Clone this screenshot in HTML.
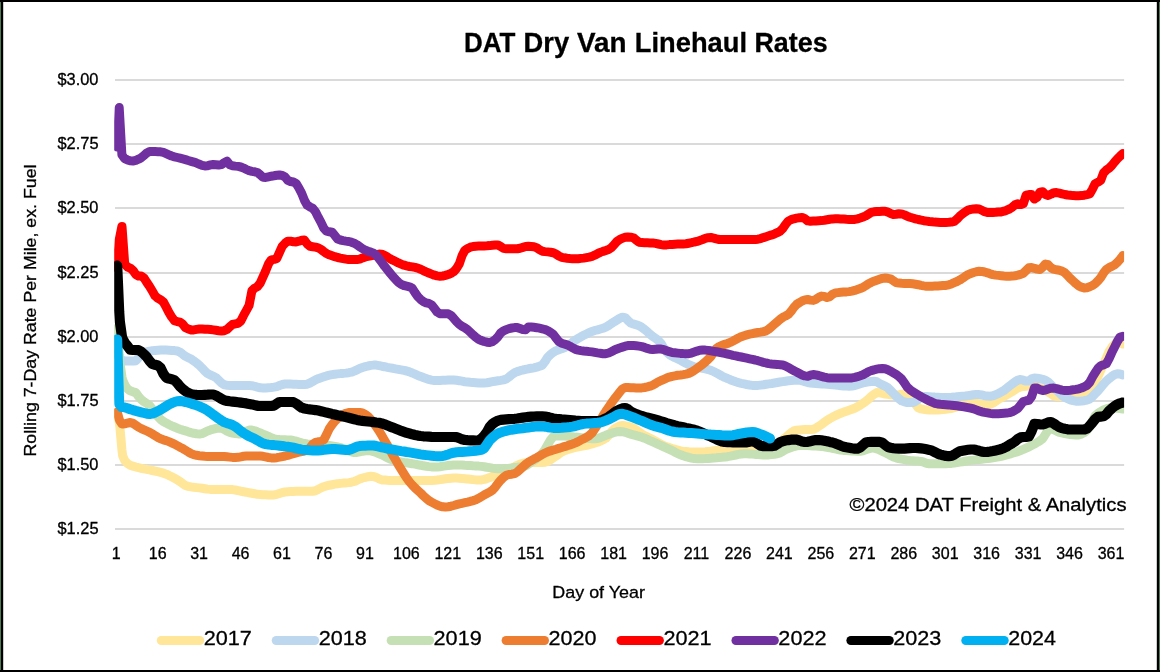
<!DOCTYPE html>
<html><head><meta charset="utf-8"><title>DAT Dry Van Linehaul Rates</title>
<style>html,body{margin:0;padding:0;background:#fff}body{width:1160px;height:672px;overflow:hidden}svg{display:block;will-change:transform}text{font-family:"Liberation Sans",sans-serif;fill:#000;stroke:#000;stroke-width:0.3px}</style></head><body>
<svg width="1160" height="672" viewBox="0 0 1160 672">
<rect x="0" y="0" width="1160" height="672" fill="#fff"/>
<rect x="0" y="0" width="1.2" height="672" fill="#4e7a51"/>
<rect x="1158.8" y="0" width="1.2" height="672" fill="#4e7a51"/>
<rect x="1" y="0" width="2.2" height="672" fill="#000"/>
<rect x="1156.8" y="0" width="2.2" height="672" fill="#000"/>
<rect x="0" y="0" width="1160" height="2" fill="#000"/>
<rect x="0" y="670" width="1160" height="2" fill="#000"/>
<text x="464.01" y="51.50" font-size="27.4" font-weight="bold" textLength="51.44" lengthAdjust="spacingAndGlyphs">DAT</text>
<text x="523.52" y="51.50" font-size="27.4" font-weight="bold" textLength="45.61" lengthAdjust="spacingAndGlyphs">Dry</text>
<text x="576.96" y="51.50" font-size="27.4" font-weight="bold" textLength="49.53" lengthAdjust="spacingAndGlyphs">Van</text>
<text x="634.83" y="51.50" font-size="27.4" font-weight="bold" textLength="112.23" lengthAdjust="spacingAndGlyphs">Linehaul</text>
<text x="754.46" y="51.50" font-size="27.4" font-weight="bold" textLength="73.12" lengthAdjust="spacingAndGlyphs">Rates</text>
<rect x="115.0" y="79" width="1009.0999999999999" height="2" fill="#dadada"/>
<rect x="115.0" y="143" width="1009.0999999999999" height="2" fill="#dadada"/>
<rect x="115.0" y="207" width="1009.0999999999999" height="2" fill="#dadada"/>
<rect x="115.0" y="272" width="1009.0999999999999" height="2" fill="#dadada"/>
<rect x="115.0" y="336" width="1009.0999999999999" height="2" fill="#dadada"/>
<rect x="115.0" y="400" width="1009.0999999999999" height="2" fill="#dadada"/>
<rect x="115.0" y="464" width="1009.0999999999999" height="2" fill="#dadada"/>
<rect x="115.0" y="528" width="1009.0999999999999" height="2" fill="#dadada"/>
<text x="57.49" y="84.90" font-size="16.1" textLength="41.01" lengthAdjust="spacingAndGlyphs">$3.00</text>
<text x="57.49" y="148.90" font-size="16.1" textLength="41.09" lengthAdjust="spacingAndGlyphs">$2.75</text>
<text x="57.49" y="212.90" font-size="16.1" textLength="41.01" lengthAdjust="spacingAndGlyphs">$2.50</text>
<text x="57.49" y="277.90" font-size="16.1" textLength="41.09" lengthAdjust="spacingAndGlyphs">$2.25</text>
<text x="57.49" y="341.90" font-size="16.1" textLength="41.01" lengthAdjust="spacingAndGlyphs">$2.00</text>
<text x="57.49" y="405.90" font-size="16.1" textLength="41.09" lengthAdjust="spacingAndGlyphs">$1.75</text>
<text x="57.49" y="469.90" font-size="16.1" textLength="41.01" lengthAdjust="spacingAndGlyphs">$1.50</text>
<text x="57.49" y="533.90" font-size="16.1" textLength="41.09" lengthAdjust="spacingAndGlyphs">$1.25</text>
<text x="116.20" y="558.8" text-anchor="middle" font-size="16.0">1</text>
<text x="157.65" y="558.8" text-anchor="middle" font-size="16.0">16</text>
<text x="199.10" y="558.8" text-anchor="middle" font-size="16.0">31</text>
<text x="240.55" y="558.8" text-anchor="middle" font-size="16.0">46</text>
<text x="282.00" y="558.8" text-anchor="middle" font-size="16.0">61</text>
<text x="323.45" y="558.8" text-anchor="middle" font-size="16.0">76</text>
<text x="364.90" y="558.8" text-anchor="middle" font-size="16.0">91</text>
<text x="406.35" y="558.8" text-anchor="middle" font-size="16.0">106</text>
<text x="447.80" y="558.8" text-anchor="middle" font-size="16.0">121</text>
<text x="489.25" y="558.8" text-anchor="middle" font-size="16.0">136</text>
<text x="530.70" y="558.8" text-anchor="middle" font-size="16.0">151</text>
<text x="572.14" y="558.8" text-anchor="middle" font-size="16.0">166</text>
<text x="613.59" y="558.8" text-anchor="middle" font-size="16.0">181</text>
<text x="655.04" y="558.8" text-anchor="middle" font-size="16.0">196</text>
<text x="696.49" y="558.8" text-anchor="middle" font-size="16.0">211</text>
<text x="737.94" y="558.8" text-anchor="middle" font-size="16.0">226</text>
<text x="779.39" y="558.8" text-anchor="middle" font-size="16.0">241</text>
<text x="820.84" y="558.8" text-anchor="middle" font-size="16.0">256</text>
<text x="862.29" y="558.8" text-anchor="middle" font-size="16.0">271</text>
<text x="903.74" y="558.8" text-anchor="middle" font-size="16.0">286</text>
<text x="945.19" y="558.8" text-anchor="middle" font-size="16.0">301</text>
<text x="986.64" y="558.8" text-anchor="middle" font-size="16.0">316</text>
<text x="1028.09" y="558.8" text-anchor="middle" font-size="16.0">331</text>
<text x="1069.54" y="558.8" text-anchor="middle" font-size="16.0">346</text>
<text x="1110.99" y="558.8" text-anchor="middle" font-size="16.0">361</text>
<text x="552.32" y="597.50" font-size="17.2" textLength="92.61" lengthAdjust="spacingAndGlyphs">Day of Year</text>
<text x="-456.52" y="35.90" font-size="17.4" textLength="292.02" lengthAdjust="spacingAndGlyphs" transform="rotate(-90)">Rolling 7-Day Rate Per Mile, ex. Fuel</text>
<clipPath id="pc"><rect x="114.2" y="60" width="1009.8999999999999" height="480"/></clipPath>
<g clip-path="url(#pc)" fill="none" stroke-width="9.0" stroke-linejoin="round" stroke-linecap="round">
<path d="M117.2,413.0 L119.2,421.8 L119.9,427.0 L121.5,445.0 L121.9,449.7 L122.7,456.0 L124.7,460.5 L127.5,463.5 L130.2,465.2 L133.0,466.2 L135.8,467.0 L138.5,467.7 L141.3,468.3 L144.1,468.9 L146.8,469.4 L149.6,469.9 L152.3,470.5 L155.1,471.1 L157.9,471.7 L160.6,472.4 L163.4,473.2 L166.2,474.2 L168.9,475.4 L171.7,476.8 L174.5,478.3 L177.2,479.8 L180.0,481.6 L182.8,483.7 L185.5,485.5 L188.3,486.4 L191.1,486.9 L193.8,487.3 L196.6,487.6 L199.4,487.9 L202.1,488.3 L204.9,488.7 L207.6,489.1 L210.4,489.4 L213.2,489.5 L215.9,489.5 L218.7,489.5 L221.5,489.5 L224.2,489.5 L227.0,489.5 L229.8,489.5 L232.5,489.6 L235.3,490.0 L238.1,490.6 L240.8,491.2 L243.6,491.7 L246.4,492.2 L249.1,492.8 L251.9,493.3 L254.7,493.8 L257.4,494.3 L260.2,494.5 L262.9,494.7 L265.7,494.8 L268.5,494.9 L271.2,495.0 L274.0,494.9 L276.8,494.3 L279.5,493.4 L282.3,492.5 L285.1,492.0 L287.8,491.8 L290.6,491.6 L293.4,491.4 L296.1,491.3 L298.9,491.3 L301.7,491.2 L304.4,491.2 L307.2,491.2 L310.0,491.2 L312.7,491.2 L315.5,490.7 L318.2,489.4 L321.0,487.9 L323.8,486.7 L326.5,485.9 L329.3,485.2 L332.1,484.7 L334.8,484.2 L337.6,483.7 L340.4,483.4 L343.1,483.1 L345.9,482.9 L348.7,482.6 L351.4,482.2 L354.2,481.5 L357.0,480.3 L359.7,479.0 L362.5,478.0 L365.3,477.3 L368.0,476.7 L370.8,476.3 L373.5,476.4 L376.3,477.4 L379.1,478.9 L381.8,479.9 L384.6,480.1 L387.4,480.3 L390.1,480.4 L392.9,480.5 L395.7,480.5 L398.4,480.5 L401.2,480.5 L404.0,480.5 L406.7,480.5 L409.5,480.5 L412.3,480.5 L415.0,480.5 L417.8,480.5 L420.6,480.5 L423.3,480.5 L426.1,480.5 L428.8,480.5 L431.6,480.5 L434.4,480.3 L437.1,480.0 L439.9,479.6 L442.7,479.2 L445.4,478.8 L448.2,478.5 L451.0,478.2 L453.7,478.0 L456.5,478.0 L459.3,478.2 L462.0,478.4 L464.8,478.7 L467.6,479.0 L470.3,479.3 L473.1,479.6 L475.9,479.9 L478.6,480.0 L481.4,479.9 L484.1,479.4 L486.9,478.6 L489.7,477.6 L492.4,476.5 L495.2,475.3 L498.0,474.0 L500.7,472.7 L503.5,471.5 L506.3,470.3 L509.0,469.2 L511.8,468.0 L514.6,466.8 L517.3,465.3 L520.1,464.1 L522.9,463.3 L525.6,462.9 L528.4,462.6 L531.2,462.5 L533.9,462.4 L536.7,462.4 L539.4,462.4 L542.2,462.4 L545.0,462.3 L547.7,461.5 L550.5,459.7 L553.3,457.8 L556.0,456.0 L558.8,454.0 L561.6,452.1 L564.3,450.8 L567.1,449.7 L569.9,448.9 L572.6,448.1 L575.4,447.4 L578.2,446.8 L580.9,446.3 L583.7,445.8 L586.5,445.3 L589.2,444.7 L592.0,444.0 L594.7,443.1 L597.5,442.2 L600.3,441.1 L603.0,439.8 L605.8,438.2 L608.6,435.4 L611.3,432.0 L614.1,429.1 L616.9,427.4 L619.6,426.0 L622.4,425.5 L625.2,425.8 L627.9,426.3 L630.7,427.1 L633.5,428.1 L636.2,429.9 L639.0,432.0 L641.8,434.0 L644.5,435.6 L647.3,436.9 L650.0,438.2 L652.8,439.6 L655.6,441.1 L658.3,442.8 L661.1,444.3 L663.9,445.6 L666.6,446.6 L669.4,447.6 L672.2,448.5 L674.9,449.3 L677.7,450.1 L680.5,450.9 L683.2,451.4 L686.0,451.6 L688.8,451.8 L691.5,451.9 L694.3,452.0 L697.1,452.0 L699.8,452.0 L702.6,451.9 L705.3,451.7 L708.1,451.4 L710.9,451.2 L713.6,450.8 L716.4,450.5 L719.2,450.2 L721.9,449.8 L724.7,449.5 L727.5,449.2 L730.2,448.8 L733.0,448.5 L735.8,448.1 L738.5,447.7 L741.3,447.3 L744.1,447.1 L746.8,446.9 L749.6,446.7 L752.4,446.6 L755.1,446.5 L757.9,446.4 L760.6,446.3 L763.4,446.1 L766.2,445.9 L768.9,445.6 L771.7,445.2 L774.5,444.6 L777.2,443.6 L780.0,441.8 L782.8,439.8 L785.5,437.5 L788.3,435.0 L791.1,432.8 L793.8,430.9 L796.6,430.2 L799.4,429.9 L802.1,429.7 L804.9,429.6 L807.7,429.6 L810.4,429.6 L813.2,429.3 L815.9,428.1 L818.7,426.3 L821.5,424.5 L824.2,422.4 L827.0,420.3 L829.8,418.6 L832.5,417.1 L835.3,415.7 L838.1,414.4 L840.8,413.2 L843.6,412.1 L846.4,411.2 L849.1,410.3 L851.9,409.3 L854.7,408.2 L857.4,406.8 L860.2,405.1 L863.0,403.3 L865.7,401.3 L868.5,399.2 L871.2,396.5 L874.0,394.3 L876.8,392.6 L879.5,392.7 L882.3,393.4 L885.1,394.0 L887.8,394.4 L890.6,394.7 L893.4,395.0 L896.1,395.0 L898.9,394.7 L901.7,394.3 L904.4,394.0 L907.2,394.9 L910.0,397.8 L912.7,400.8 L915.5,404.4 L918.3,407.8 L921.0,408.9 L923.8,409.4 L926.5,409.7 L929.3,409.9 L932.1,410.0 L934.8,410.0 L937.6,409.9 L940.4,409.7 L943.1,409.5 L945.9,409.2 L948.7,408.9 L951.4,408.5 L954.2,407.7 L957.0,406.7 L959.7,405.5 L962.5,404.3 L965.3,403.3 L968.0,402.7 L970.8,402.5 L973.6,402.8 L976.3,403.2 L979.1,403.8 L981.8,404.4 L984.6,404.8 L987.4,405.0 L990.1,404.5 L992.9,403.1 L995.7,401.3 L998.4,399.4 L1001.2,397.9 L1004.0,396.3 L1006.7,394.8 L1009.5,393.2 L1012.3,391.6 L1015.0,389.8 L1017.8,387.9 L1020.6,386.9 L1023.3,386.5 L1026.1,386.2 L1028.9,386.0 L1031.6,386.1 L1034.4,386.5 L1037.1,387.2 L1039.9,388.0 L1042.7,389.0 L1045.4,390.4 L1048.2,392.0 L1051.0,393.6 L1053.7,395.7 L1056.5,396.5 L1059.3,396.5 L1062.0,396.4 L1064.8,396.2 L1067.6,396.0 L1070.3,395.8 L1073.1,395.3 L1075.9,394.7 L1078.6,393.9 L1081.4,393.0 L1084.2,391.8 L1086.9,390.2 L1089.7,388.3 L1092.4,385.4 L1095.2,381.3 L1098.0,376.3 L1100.7,370.4 L1103.5,364.3 L1106.3,358.1 L1109.0,351.7 L1111.8,347.3 L1114.6,344.2 L1117.3,343.0 L1120.1,342.5 L1122.9,344.0 L1122.9,344.0" stroke="#FFE699" stroke-width="9.0"/>
<path d="M117.2,353.0 L119.2,358.0 L119.2,358.0 L121.9,360.1 L124.7,361.0 L125.0,361.0 L127.5,361.0 L130.2,361.0 L133.0,361.0 L135.0,361.0 L135.8,360.8 L138.5,357.8 L141.3,354.8 L144.1,353.2 L146.8,351.9 L149.6,351.1 L152.3,350.7 L155.1,350.4 L157.9,350.2 L160.6,350.0 L163.4,350.0 L166.2,350.1 L168.9,350.2 L171.7,350.4 L174.5,350.6 L177.2,351.0 L180.0,352.1 L182.8,354.3 L185.5,356.3 L188.3,357.7 L191.1,359.1 L193.8,360.9 L196.6,363.0 L199.4,365.4 L202.1,368.1 L204.9,371.2 L207.6,373.6 L210.4,375.0 L213.2,376.1 L215.9,377.6 L218.7,380.3 L221.5,383.0 L224.2,384.8 L227.0,385.2 L229.8,385.4 L232.5,385.5 L235.3,385.5 L238.1,385.5 L240.8,385.5 L243.6,385.5 L246.4,385.5 L249.1,385.5 L251.9,385.7 L254.7,386.3 L257.4,387.1 L260.2,387.8 L262.9,388.0 L265.7,387.9 L268.5,387.7 L271.2,387.5 L274.0,387.1 L276.8,386.6 L279.5,385.5 L282.3,384.5 L285.1,384.0 L287.8,384.0 L290.6,384.1 L293.4,384.2 L296.1,384.3 L298.9,384.4 L301.7,384.5 L304.4,384.5 L307.2,384.2 L310.0,383.0 L312.7,381.5 L315.5,379.9 L318.2,378.7 L321.0,377.7 L323.8,376.8 L326.5,375.9 L329.3,375.2 L332.1,374.6 L334.8,374.2 L337.6,373.9 L340.4,373.6 L343.1,373.4 L345.9,373.1 L348.7,372.7 L351.4,372.2 L354.2,371.1 L357.0,369.8 L359.7,368.5 L362.5,367.5 L365.3,366.7 L368.0,366.0 L370.8,365.4 L373.5,365.1 L376.3,365.1 L379.1,365.6 L381.8,366.2 L384.6,366.7 L387.4,367.3 L390.1,367.8 L392.9,368.3 L395.7,368.9 L398.4,369.4 L401.2,369.9 L404.0,370.4 L406.7,371.0 L409.5,371.9 L412.3,373.0 L415.0,374.2 L417.8,375.4 L420.6,376.4 L423.3,377.5 L426.1,378.5 L428.8,379.4 L431.6,380.1 L434.4,380.5 L437.1,380.5 L439.9,380.4 L442.7,380.3 L445.4,380.2 L448.2,380.1 L451.0,380.0 L453.7,380.0 L456.5,380.3 L459.3,380.7 L462.0,381.2 L464.8,381.7 L467.6,382.0 L470.3,382.3 L473.1,382.5 L475.9,382.7 L478.6,382.9 L481.4,383.0 L484.1,382.9 L486.9,382.7 L489.7,382.2 L492.4,381.7 L495.2,381.2 L498.0,380.8 L500.7,380.4 L503.5,379.9 L506.3,379.0 L509.0,377.0 L511.8,374.6 L514.6,372.7 L517.3,371.6 L520.1,370.7 L522.9,370.0 L525.6,369.4 L528.4,368.8 L531.2,368.3 L533.9,367.8 L536.7,367.1 L539.4,366.3 L542.2,365.2 L545.0,361.6 L547.7,357.2 L550.5,354.5 L553.3,352.3 L556.0,350.7 L558.8,349.7 L561.6,348.8 L564.3,347.8 L567.1,346.3 L569.9,344.4 L572.6,342.2 L575.4,340.1 L578.2,338.4 L580.9,336.8 L583.7,335.3 L586.5,333.9 L589.2,332.6 L592.0,331.4 L594.7,330.5 L597.5,329.8 L600.3,329.0 L603.0,328.2 L605.8,327.1 L608.6,325.5 L611.3,323.6 L614.1,321.8 L616.9,320.1 L619.6,318.4 L622.4,317.2 L625.2,317.6 L627.9,320.6 L630.7,322.9 L633.5,323.9 L636.2,324.8 L639.0,325.8 L641.8,327.3 L644.5,329.3 L647.3,331.7 L650.0,334.2 L652.8,336.5 L655.6,338.4 L658.3,340.4 L661.1,343.5 L663.9,348.3 L666.6,351.9 L669.4,354.6 L672.2,356.3 L674.9,357.7 L677.7,358.9 L680.5,360.2 L683.2,361.7 L686.0,363.3 L688.8,364.7 L691.5,365.9 L694.3,366.8 L697.1,367.4 L699.8,367.9 L702.6,368.4 L705.3,368.9 L708.1,369.5 L710.9,370.3 L713.6,371.5 L716.4,372.9 L719.2,374.5 L721.9,376.0 L724.7,377.4 L727.5,378.5 L730.2,379.7 L733.0,380.8 L735.8,381.8 L738.5,382.6 L741.3,383.3 L744.1,383.9 L746.8,384.5 L749.6,385.0 L752.4,385.4 L755.1,385.5 L757.9,385.4 L760.6,385.1 L763.4,384.8 L766.2,384.3 L768.9,383.9 L771.7,383.5 L774.5,383.0 L777.2,382.5 L780.0,382.0 L782.8,381.6 L785.5,381.2 L788.3,380.8 L791.1,380.5 L793.8,380.2 L796.6,380.0 L799.4,380.2 L802.1,380.8 L804.9,381.7 L807.7,382.5 L810.4,383.0 L813.2,383.3 L815.9,383.6 L818.7,383.8 L821.5,383.9 L824.2,384.1 L827.0,384.3 L829.8,384.5 L832.5,384.7 L835.3,385.0 L838.1,385.4 L840.8,385.7 L843.6,385.9 L846.4,386.1 L849.1,386.2 L851.9,386.1 L854.7,385.6 L857.4,384.7 L860.2,383.8 L863.0,382.9 L865.7,382.4 L868.5,381.9 L871.2,381.5 L874.0,381.3 L876.8,381.8 L879.5,383.5 L882.3,384.8 L885.1,386.1 L887.8,387.7 L890.6,390.5 L893.4,393.4 L896.1,396.2 L898.9,398.7 L901.7,400.9 L904.4,401.9 L907.2,402.5 L910.0,402.5 L912.7,402.5 L915.5,401.3 L918.3,399.5 L921.0,397.1 L923.8,396.5 L926.5,396.6 L929.3,396.7 L932.1,396.9 L934.8,397.1 L937.6,397.2 L940.4,397.4 L943.1,397.5 L945.9,397.5 L948.7,397.4 L951.4,397.3 L954.2,397.1 L957.0,396.8 L959.7,396.5 L962.5,396.2 L965.3,396.0 L968.0,395.6 L970.8,395.2 L973.6,394.8 L976.3,394.5 L979.1,394.6 L981.8,395.0 L984.6,395.6 L987.4,396.1 L990.1,396.2 L992.9,395.8 L995.7,394.8 L998.4,393.5 L1001.2,392.0 L1004.0,390.4 L1006.7,388.3 L1009.5,386.0 L1012.3,383.9 L1015.0,381.9 L1017.8,380.1 L1020.6,379.5 L1023.3,380.2 L1026.1,381.1 L1028.9,380.9 L1031.6,378.9 L1034.4,378.0 L1037.1,378.2 L1039.9,378.7 L1042.7,379.3 L1045.4,380.2 L1048.2,382.0 L1051.0,384.7 L1053.7,387.6 L1056.5,390.1 L1059.3,392.9 L1062.0,395.5 L1064.8,397.4 L1067.6,398.6 L1070.3,399.8 L1073.1,400.6 L1075.9,401.2 L1078.6,401.2 L1081.4,401.0 L1084.2,400.7 L1086.9,400.1 L1089.7,399.0 L1092.4,396.6 L1095.2,393.7 L1098.0,390.8 L1100.7,387.6 L1103.5,384.2 L1106.3,381.1 L1109.0,378.7 L1111.8,376.4 L1114.6,374.6 L1117.3,373.8 L1120.1,374.0 L1122.9,375.0 L1122.9,375.0" stroke="#BDD7EE" stroke-width="9.0"/>
<path d="M117.2,328.0 L119.2,354.8 L119.9,362.0 L121.9,376.7 L122.7,380.0 L124.7,384.7 L125.5,386.0 L127.5,388.8 L130.2,390.8 L133.0,391.8 L135.8,392.6 L138.5,396.4 L141.3,399.7 L144.1,401.8 L146.8,403.5 L149.6,405.6 L152.3,408.8 L155.1,412.8 L157.9,416.7 L160.6,419.5 L163.4,421.5 L166.2,423.1 L168.9,424.5 L171.7,425.8 L174.5,427.0 L177.2,428.2 L180.0,429.2 L182.8,430.1 L185.5,430.9 L188.3,431.8 L191.1,432.6 L193.8,433.3 L196.6,433.8 L199.4,434.0 L202.1,433.6 L204.9,432.4 L207.6,430.9 L210.4,429.9 L213.2,429.1 L215.9,428.5 L218.7,428.1 L221.5,428.2 L224.2,429.5 L227.0,431.2 L229.8,432.4 L232.5,433.1 L235.3,433.6 L238.1,433.9 L240.8,433.9 L243.6,432.8 L246.4,431.2 L249.1,430.1 L251.9,430.1 L254.7,430.8 L257.4,431.8 L260.2,433.0 L262.9,434.2 L265.7,435.3 L268.5,436.4 L271.2,437.7 L274.0,438.8 L276.8,439.4 L279.5,439.6 L282.3,439.7 L285.1,439.8 L287.8,439.9 L290.6,440.0 L293.4,440.5 L296.1,441.2 L298.9,442.0 L301.7,442.8 L304.4,443.5 L307.2,444.0 L310.0,444.2 L312.7,444.4 L315.5,444.5 L318.2,444.6 L321.0,444.7 L323.8,444.9 L326.5,445.1 L329.3,445.5 L332.1,445.9 L334.8,446.4 L337.6,447.0 L340.4,447.6 L343.1,448.5 L345.9,449.7 L348.7,450.9 L351.4,451.9 L354.2,452.5 L357.0,452.4 L359.7,451.9 L362.5,451.2 L365.3,450.7 L368.0,450.5 L370.8,450.9 L373.5,451.6 L376.3,452.6 L379.1,453.7 L381.8,454.8 L384.6,456.2 L387.4,457.7 L390.1,459.1 L392.9,460.1 L395.7,460.8 L398.4,461.4 L401.2,461.9 L404.0,462.4 L406.7,462.8 L409.5,463.3 L412.3,463.7 L415.0,464.2 L417.8,464.7 L420.6,465.2 L423.3,465.8 L426.1,466.2 L428.8,466.6 L431.6,466.9 L434.4,467.0 L437.1,466.9 L439.9,466.7 L442.7,466.3 L445.4,465.9 L448.2,465.5 L451.0,465.2 L453.7,465.0 L456.5,465.0 L459.3,465.1 L462.0,465.1 L464.8,465.3 L467.6,465.4 L470.3,465.6 L473.1,465.8 L475.9,465.9 L478.6,466.1 L481.4,466.4 L484.1,466.7 L486.9,467.2 L489.7,467.6 L492.4,468.1 L495.2,468.5 L498.0,468.7 L500.7,468.7 L503.5,468.6 L506.3,468.4 L509.0,468.2 L511.8,467.9 L514.6,467.5 L517.3,467.3 L520.1,466.9 L522.9,466.5 L525.6,465.8 L528.4,464.1 L531.2,462.3 L533.9,460.5 L536.7,458.5 L539.4,456.4 L542.2,453.6 L545.0,449.5 L547.7,444.8 L550.5,440.0 L553.3,436.7 L556.0,436.0 L558.8,436.0 L561.6,436.0 L564.3,436.1 L567.1,436.3 L569.9,436.5 L572.6,436.8 L575.4,437.1 L578.2,437.3 L580.9,437.6 L583.7,437.9 L586.5,438.2 L589.2,438.4 L592.0,438.7 L594.7,438.7 L597.5,438.5 L600.3,437.6 L603.0,436.5 L605.8,435.3 L608.6,434.2 L611.3,433.4 L614.1,432.5 L616.9,431.8 L619.6,431.5 L622.4,431.7 L625.2,432.3 L627.9,433.2 L630.7,434.1 L633.5,434.9 L636.2,435.6 L639.0,436.4 L641.8,437.2 L644.5,438.2 L647.3,439.4 L650.0,440.7 L652.8,441.9 L655.6,443.1 L658.3,444.4 L661.1,445.6 L663.9,446.9 L666.6,448.1 L669.4,449.3 L672.2,450.6 L674.9,452.2 L677.7,453.6 L680.5,454.7 L683.2,455.7 L686.0,456.6 L688.8,457.4 L691.5,458.1 L694.3,458.6 L697.1,458.7 L699.8,458.7 L702.6,458.7 L705.3,458.6 L708.1,458.4 L710.9,458.2 L713.6,458.0 L716.4,457.8 L719.2,457.5 L721.9,457.3 L724.7,457.0 L727.5,456.7 L730.2,456.2 L733.0,455.6 L735.8,455.0 L738.5,454.4 L741.3,454.0 L744.1,453.8 L746.8,453.8 L749.6,453.9 L752.4,454.1 L755.1,454.4 L757.9,454.6 L760.6,454.8 L763.4,455.0 L766.2,455.0 L768.9,454.9 L771.7,454.6 L774.5,454.2 L777.2,453.8 L780.0,452.9 L782.8,451.3 L785.5,449.6 L788.3,448.5 L791.1,447.5 L793.8,446.6 L796.6,445.9 L799.4,445.5 L802.1,445.5 L804.9,445.6 L807.7,445.6 L810.4,445.7 L813.2,445.9 L815.9,446.0 L818.7,446.2 L821.5,446.4 L824.2,446.7 L827.0,447.2 L829.8,447.7 L832.5,448.3 L835.3,448.9 L838.1,449.5 L840.8,450.0 L843.6,450.4 L846.4,450.6 L849.1,450.8 L851.9,451.0 L854.7,451.1 L857.4,451.2 L860.2,451.2 L863.0,450.8 L865.7,449.8 L868.5,448.8 L871.2,448.1 L874.0,448.1 L876.8,448.8 L879.5,449.9 L882.3,451.3 L885.1,452.5 L887.8,453.9 L890.6,455.5 L893.4,456.9 L896.1,457.8 L898.9,458.6 L901.7,459.2 L904.4,459.7 L907.2,460.2 L910.0,460.5 L912.7,460.7 L915.5,460.9 L918.3,461.1 L921.0,461.4 L923.8,462.2 L926.5,463.2 L929.3,463.7 L932.1,463.8 L934.8,463.8 L937.6,463.8 L940.4,463.8 L943.1,463.8 L945.9,463.7 L948.7,463.6 L951.4,463.4 L954.2,463.0 L957.0,462.6 L959.7,462.1 L962.5,461.7 L965.3,461.2 L968.0,460.8 L970.8,460.4 L973.6,460.1 L976.3,459.8 L979.1,459.5 L981.8,459.2 L984.6,458.9 L987.4,458.6 L990.1,458.2 L992.9,457.8 L995.7,457.4 L998.4,456.9 L1001.2,456.3 L1004.0,455.6 L1006.7,454.9 L1009.5,454.2 L1012.3,453.3 L1015.0,452.5 L1017.8,451.6 L1020.6,450.5 L1023.3,449.4 L1026.1,448.1 L1028.9,446.8 L1031.6,445.5 L1034.4,444.1 L1037.1,442.5 L1039.9,440.8 L1042.7,438.6 L1045.4,434.4 L1048.2,429.9 L1051.0,428.8 L1053.7,429.7 L1056.5,431.1 L1059.3,432.3 L1062.0,432.9 L1064.8,433.5 L1067.6,434.0 L1070.3,434.5 L1073.1,434.8 L1075.9,435.0 L1078.6,434.9 L1081.4,434.1 L1084.2,432.6 L1086.9,430.5 L1089.7,426.6 L1092.4,420.7 L1095.2,415.7 L1098.0,413.3 L1100.7,411.6 L1103.5,410.0 L1106.3,408.8 L1109.0,408.1 L1111.8,408.0 L1114.6,408.0 L1117.3,408.2 L1120.1,408.5 L1122.9,409.0 L1122.9,409.0" stroke="#C5E0B4" stroke-width="9.0"/>
<path d="M117.2,412.0 L119.2,419.3 L119.9,421.0 L121.9,423.8 L122.5,424.0 L124.7,423.7 L126.0,423.5 L127.5,423.1 L130.2,422.5 L133.0,423.4 L135.8,425.2 L138.5,427.1 L141.3,428.6 L144.1,429.8 L146.8,431.0 L149.6,432.3 L152.3,433.9 L155.1,435.7 L157.9,437.4 L160.6,438.8 L163.4,439.8 L166.2,440.6 L168.9,441.6 L171.7,442.8 L174.5,444.1 L177.2,445.6 L180.0,447.2 L182.8,448.6 L185.5,450.3 L188.3,452.0 L191.1,453.6 L193.8,454.7 L196.6,455.3 L199.4,455.7 L202.1,456.0 L204.9,456.3 L207.6,456.5 L210.4,456.5 L213.2,456.5 L215.9,456.5 L218.7,456.5 L221.5,456.5 L224.2,456.6 L227.0,456.8 L229.8,457.1 L232.5,457.4 L235.3,457.5 L238.1,457.3 L240.8,456.8 L243.6,456.3 L246.4,456.0 L249.1,456.0 L251.9,456.0 L254.7,456.0 L257.4,456.0 L260.2,456.0 L262.9,456.3 L265.7,456.9 L268.5,457.5 L271.2,457.9 L274.0,458.0 L276.8,457.7 L279.5,457.2 L282.3,456.6 L285.1,456.0 L287.8,455.3 L290.6,454.5 L293.4,453.7 L296.1,452.9 L298.9,452.2 L301.7,451.6 L304.4,451.0 L307.2,450.1 L310.0,447.8 L312.7,444.3 L315.5,442.4 L318.2,441.8 L321.0,441.4 L323.8,439.9 L326.5,434.6 L329.3,428.6 L332.1,424.6 L334.8,421.2 L337.6,418.5 L340.4,416.1 L343.1,414.4 L345.9,413.3 L348.7,412.6 L351.4,412.5 L354.2,412.5 L357.0,412.5 L359.7,412.5 L362.5,413.0 L365.3,414.5 L368.0,416.4 L370.8,419.3 L373.5,423.0 L376.3,426.8 L379.1,431.0 L381.8,435.5 L384.6,440.4 L387.4,445.3 L390.1,450.2 L392.9,455.2 L395.7,460.1 L398.4,464.9 L401.2,469.4 L404.0,473.9 L406.7,478.1 L409.5,481.9 L412.3,485.1 L415.0,487.9 L417.8,490.5 L420.6,493.0 L423.3,495.7 L426.1,498.3 L428.8,500.5 L431.6,502.1 L434.4,503.6 L437.1,505.0 L439.9,506.1 L442.7,506.8 L445.4,507.0 L448.2,506.7 L451.0,506.2 L453.7,505.5 L456.5,504.7 L459.3,503.9 L462.0,503.3 L464.8,502.7 L467.6,502.1 L470.3,501.4 L473.1,500.6 L475.9,499.7 L478.6,498.3 L481.4,496.7 L484.1,495.0 L486.9,493.5 L489.7,492.1 L492.4,490.3 L495.2,487.2 L498.0,483.4 L500.7,480.2 L503.5,477.4 L506.3,475.3 L509.0,474.5 L511.8,474.2 L514.6,473.6 L517.3,472.0 L520.1,469.4 L522.9,466.9 L525.6,464.4 L528.4,462.2 L531.2,460.6 L533.9,459.1 L536.7,457.7 L539.4,456.1 L542.2,454.4 L545.0,453.0 L547.7,451.8 L550.5,450.9 L553.3,450.0 L556.0,449.2 L558.8,448.3 L561.6,447.5 L564.3,446.6 L567.1,445.8 L569.9,444.9 L572.6,444.0 L575.4,442.9 L578.2,441.6 L580.9,440.1 L583.7,438.7 L586.5,437.3 L589.2,435.6 L592.0,432.9 L594.7,428.9 L597.5,424.7 L600.3,420.2 L603.0,415.7 L605.8,411.3 L608.6,407.2 L611.3,403.1 L614.1,399.3 L616.9,395.7 L619.6,392.3 L622.4,388.9 L625.2,387.5 L627.9,387.5 L630.7,387.7 L633.5,387.8 L636.2,387.9 L639.0,388.0 L641.8,387.9 L644.5,387.5 L647.3,386.9 L650.0,386.2 L652.8,385.1 L655.6,383.5 L658.3,381.8 L661.1,380.5 L663.9,379.3 L666.6,378.1 L669.4,377.1 L672.2,376.3 L674.9,375.8 L677.7,375.3 L680.5,375.0 L683.2,374.6 L686.0,374.1 L688.8,373.4 L691.5,372.1 L694.3,370.4 L697.1,368.4 L699.8,366.4 L702.6,364.3 L705.3,362.0 L708.1,359.4 L710.9,356.5 L713.6,352.3 L716.4,348.4 L719.2,346.5 L721.9,345.3 L724.7,344.4 L727.5,343.5 L730.2,342.4 L733.0,341.0 L735.8,339.5 L738.5,338.0 L741.3,336.7 L744.1,335.7 L746.8,334.9 L749.6,334.2 L752.4,333.6 L755.1,333.0 L757.9,332.5 L760.6,332.1 L763.4,331.6 L766.2,330.8 L768.9,329.0 L771.7,326.6 L774.5,324.2 L777.2,321.8 L780.0,319.4 L782.8,317.3 L785.5,316.0 L788.3,314.4 L791.1,311.3 L793.8,307.5 L796.6,304.4 L799.4,302.6 L802.1,301.0 L804.9,299.9 L807.7,299.5 L810.4,300.1 L813.2,300.4 L815.9,299.3 L818.7,297.4 L821.5,296.1 L824.2,296.4 L827.0,297.5 L829.8,296.6 L832.5,294.3 L835.3,292.9 L838.1,292.6 L840.8,292.3 L843.6,292.1 L846.4,291.9 L849.1,291.6 L851.9,291.1 L854.7,290.4 L857.4,289.5 L860.2,288.5 L863.0,287.3 L865.7,285.7 L868.5,283.8 L871.2,282.4 L874.0,281.2 L876.8,280.2 L879.5,279.3 L882.3,278.4 L885.1,278.0 L887.8,278.3 L890.6,278.9 L893.4,280.7 L896.1,282.6 L898.9,283.1 L901.7,283.3 L904.4,283.4 L907.2,283.5 L910.0,283.6 L912.7,283.8 L915.5,284.2 L918.3,284.7 L921.0,285.4 L923.8,285.9 L926.5,286.2 L929.3,286.2 L932.1,286.2 L934.8,286.1 L937.6,286.0 L940.4,285.8 L943.1,285.6 L945.9,285.4 L948.7,284.8 L951.4,283.9 L954.2,282.7 L957.0,281.5 L959.7,280.1 L962.5,278.3 L965.3,276.3 L968.0,274.6 L970.8,273.5 L973.6,272.5 L976.3,271.7 L979.1,271.3 L981.8,271.4 L984.6,272.0 L987.4,272.8 L990.1,273.8 L992.9,274.6 L995.7,275.1 L998.4,275.4 L1001.2,275.7 L1004.0,276.0 L1006.7,276.2 L1009.5,276.2 L1012.3,276.1 L1015.0,275.8 L1017.8,275.2 L1020.6,274.4 L1023.3,273.3 L1026.1,270.5 L1028.9,267.8 L1031.6,267.6 L1034.4,268.3 L1037.1,269.1 L1039.9,269.5 L1042.7,267.2 L1045.4,264.0 L1048.2,264.7 L1051.0,267.7 L1053.7,269.2 L1056.5,269.8 L1059.3,270.3 L1062.0,271.1 L1064.8,272.7 L1067.6,275.4 L1070.3,278.4 L1073.1,281.0 L1075.9,283.6 L1078.6,285.8 L1081.4,287.1 L1084.2,287.9 L1086.9,287.8 L1089.7,286.8 L1092.4,285.5 L1095.2,283.6 L1098.0,280.8 L1100.7,277.6 L1103.5,273.1 L1106.3,269.5 L1109.0,267.7 L1111.8,266.4 L1114.6,264.8 L1117.3,262.4 L1120.1,259.3 L1122.9,255.6 L1122.9,255.5" stroke="#ED7D31" stroke-width="9.0"/>
<path d="M117.2,268.0 L119.2,240.3 L119.2,240.0 L121.9,226.5 L122.0,226.5 L124.7,264.0 L124.7,264.0 L127.5,267.0 L130.2,268.1 L133.0,270.4 L135.8,274.5 L138.5,276.0 L141.3,276.0 L144.1,278.1 L146.8,282.4 L149.6,286.5 L152.3,291.0 L155.1,295.9 L157.9,298.3 L160.6,299.7 L163.4,302.0 L166.2,307.1 L168.9,312.4 L171.7,317.1 L174.5,320.7 L177.2,321.6 L180.0,322.2 L182.8,324.2 L185.5,327.7 L188.3,329.0 L191.1,329.9 L193.8,329.9 L196.6,329.4 L199.4,329.0 L202.1,329.0 L204.9,329.2 L207.6,329.3 L210.4,329.5 L213.2,329.9 L215.9,330.3 L218.7,330.7 L221.5,331.0 L224.2,330.7 L227.0,329.4 L229.8,326.7 L232.5,324.5 L235.3,323.9 L238.1,323.3 L240.8,321.0 L243.6,315.4 L246.4,310.4 L249.1,305.4 L251.9,290.8 L254.7,288.1 L257.4,286.6 L260.2,283.1 L262.9,277.1 L265.7,270.9 L268.5,263.8 L271.2,259.9 L274.0,259.4 L276.8,258.4 L279.5,252.4 L282.3,246.2 L285.1,243.2 L287.8,241.2 L290.6,241.2 L293.4,241.8 L296.1,241.9 L298.9,241.2 L301.7,240.3 L304.4,240.1 L307.2,244.0 L310.0,246.3 L312.7,246.7 L315.5,247.1 L318.2,247.8 L321.0,249.4 L323.8,251.6 L326.5,253.5 L329.3,254.8 L332.1,255.8 L334.8,256.7 L337.6,257.5 L340.4,258.1 L343.1,258.6 L345.9,259.1 L348.7,259.5 L351.4,259.5 L354.2,259.5 L357.0,259.5 L359.7,259.1 L362.5,257.9 L365.3,256.9 L368.0,256.3 L370.8,255.8 L373.5,255.3 L376.3,254.7 L379.1,254.1 L381.8,254.2 L384.6,255.4 L387.4,257.0 L390.1,258.7 L392.9,260.2 L395.7,261.5 L398.4,262.9 L401.2,264.1 L404.0,265.2 L406.7,265.9 L409.5,266.5 L412.3,266.9 L415.0,267.4 L417.8,268.1 L420.6,269.2 L423.3,270.6 L426.1,271.9 L428.8,273.0 L431.6,274.1 L434.4,275.2 L437.1,275.9 L439.9,276.2 L442.7,276.0 L445.4,275.4 L448.2,274.5 L451.0,273.3 L453.7,271.7 L456.5,268.5 L459.3,263.9 L462.0,255.8 L464.8,250.4 L467.6,248.5 L470.3,247.2 L473.1,246.5 L475.9,246.2 L478.6,246.1 L481.4,246.0 L484.1,245.9 L486.9,245.8 L489.7,245.6 L492.4,245.3 L495.2,245.1 L498.0,245.0 L500.7,246.5 L503.5,248.4 L506.3,248.8 L509.0,248.8 L511.8,248.8 L514.6,248.8 L517.3,248.8 L520.1,248.3 L522.9,247.4 L525.6,246.5 L528.4,246.3 L531.2,246.5 L533.9,246.8 L536.7,247.7 L539.4,249.6 L542.2,251.2 L545.0,251.6 L547.7,251.9 L550.5,252.2 L553.3,252.7 L556.0,254.1 L558.8,255.9 L561.6,257.3 L564.3,257.8 L567.1,258.2 L569.9,258.5 L572.6,258.7 L575.4,258.7 L578.2,258.7 L580.9,258.4 L583.7,258.1 L586.5,257.6 L589.2,257.1 L592.0,256.4 L594.7,255.2 L597.5,253.7 L600.3,252.4 L603.0,251.4 L605.8,250.5 L608.6,249.5 L611.3,247.8 L614.1,244.7 L616.9,241.5 L619.6,239.6 L622.4,238.2 L625.2,237.3 L627.9,237.0 L630.7,237.2 L633.5,237.8 L636.2,240.1 L639.0,242.2 L641.8,242.6 L644.5,242.7 L647.3,242.8 L650.0,242.9 L652.8,243.0 L655.6,243.4 L658.3,244.0 L661.1,244.6 L663.9,245.0 L666.6,244.9 L669.4,244.6 L672.2,244.4 L674.9,244.2 L677.7,244.1 L680.5,244.0 L683.2,243.9 L686.0,243.7 L688.8,243.2 L691.5,242.7 L694.3,242.0 L697.1,241.4 L699.8,240.5 L702.6,239.5 L705.3,238.4 L708.1,237.7 L710.9,237.5 L713.6,238.1 L716.4,238.9 L719.2,239.5 L721.9,239.5 L724.7,239.5 L727.5,239.5 L730.2,239.5 L733.0,239.5 L735.8,239.5 L738.5,239.5 L741.3,239.5 L744.1,239.5 L746.8,239.5 L749.6,239.5 L752.4,239.5 L755.1,239.5 L757.9,239.2 L760.6,238.6 L763.4,237.6 L766.2,236.7 L768.9,235.8 L771.7,234.9 L774.5,233.9 L777.2,232.7 L780.0,231.2 L782.8,228.5 L785.5,224.5 L788.3,221.1 L791.1,219.6 L793.8,218.8 L796.6,218.1 L799.4,217.7 L802.1,217.5 L804.9,218.7 L807.7,220.9 L810.4,221.2 L813.2,221.1 L815.9,221.0 L818.7,220.8 L821.5,220.6 L824.2,220.3 L827.0,219.8 L829.8,219.3 L832.5,218.9 L835.3,218.8 L838.1,218.8 L840.8,218.9 L843.6,219.1 L846.4,219.3 L849.1,219.4 L851.9,219.5 L854.7,219.4 L857.4,218.8 L860.2,218.0 L863.0,217.0 L865.7,215.9 L868.5,214.1 L871.2,212.4 L874.0,211.8 L876.8,211.6 L879.5,211.4 L882.3,211.3 L885.1,211.3 L887.8,212.1 L890.6,213.5 L893.4,214.5 L896.1,214.3 L898.9,213.8 L901.7,213.9 L904.4,214.9 L907.2,216.2 L910.0,217.2 L912.7,218.0 L915.5,218.8 L918.3,219.5 L921.0,220.1 L923.8,220.7 L926.5,221.1 L929.3,221.5 L932.1,221.8 L934.8,222.1 L937.6,222.3 L940.4,222.5 L943.1,222.5 L945.9,222.4 L948.7,222.3 L951.4,222.1 L954.2,221.4 L957.0,219.1 L959.7,216.2 L962.5,213.8 L965.3,211.8 L968.0,210.2 L970.8,209.4 L973.6,209.0 L976.3,208.8 L979.1,209.0 L981.8,210.3 L984.6,211.7 L987.4,212.5 L990.1,212.5 L992.9,212.4 L995.7,212.3 L998.4,212.1 L1001.2,211.9 L1004.0,211.2 L1006.7,210.2 L1009.5,209.0 L1012.3,207.2 L1015.0,204.8 L1017.8,203.8 L1020.6,204.6 L1023.3,203.8 L1026.1,195.1 L1028.9,194.6 L1031.6,194.6 L1034.4,199.1 L1037.1,197.3 L1039.9,192.2 L1042.7,191.8 L1045.4,194.4 L1048.2,195.4 L1051.0,194.2 L1053.7,192.7 L1056.5,192.6 L1059.3,193.1 L1062.0,193.8 L1064.8,194.5 L1067.6,195.0 L1070.3,195.3 L1073.1,195.6 L1075.9,195.7 L1078.6,195.7 L1081.4,195.6 L1084.2,195.2 L1086.9,194.6 L1089.7,193.9 L1092.4,189.3 L1095.2,183.6 L1098.0,182.1 L1100.7,180.5 L1103.5,173.0 L1106.3,170.1 L1109.0,168.3 L1111.8,165.5 L1114.6,162.0 L1117.3,158.9 L1120.1,156.1 L1122.9,153.5 L1122.9,153.5" stroke="#FF0000" stroke-width="9.0"/>
<path d="M117.2,147.0 L119.2,107.5 L119.2,107.5 L121.9,154.7 L122.0,155.0 L124.5,158.5 L124.7,158.6 L127.5,159.9 L130.2,160.8 L133.0,161.0 L135.8,160.4 L138.5,159.2 L141.3,157.7 L144.1,155.3 L146.8,152.9 L149.6,151.5 L152.3,151.5 L155.1,151.6 L157.9,151.7 L160.6,151.8 L163.4,152.4 L166.2,153.6 L168.9,154.8 L171.7,156.0 L174.5,156.8 L177.2,157.5 L180.0,158.2 L182.8,158.9 L185.5,159.6 L188.3,160.5 L191.1,161.3 L193.8,162.1 L196.6,163.1 L199.4,164.2 L202.1,165.3 L204.9,165.9 L207.6,165.8 L210.4,164.9 L213.2,164.5 L215.9,164.7 L218.7,165.0 L221.5,164.6 L224.2,162.6 L227.0,161.1 L229.8,164.8 L232.5,165.7 L235.3,166.1 L238.1,166.4 L240.8,167.0 L243.6,168.1 L246.4,169.5 L249.1,170.7 L251.9,171.4 L254.7,171.8 L257.4,172.5 L260.2,174.8 L262.9,177.3 L265.7,177.4 L268.5,176.8 L271.2,176.2 L274.0,175.8 L276.8,175.3 L279.5,175.0 L282.3,175.5 L285.1,177.0 L287.8,180.3 L290.6,181.5 L293.4,182.0 L296.1,183.4 L298.9,188.0 L301.7,193.4 L304.4,200.2 L307.2,205.2 L310.0,206.9 L312.7,208.3 L315.5,211.8 L318.2,217.2 L321.0,222.4 L323.8,228.3 L326.5,231.2 L329.3,231.8 L332.1,232.3 L334.8,235.4 L337.6,239.0 L340.4,240.0 L343.1,240.6 L345.9,241.1 L348.7,241.5 L351.4,242.2 L354.2,243.2 L357.0,244.8 L359.7,246.7 L362.5,248.6 L365.3,250.1 L368.0,251.2 L370.8,252.1 L373.5,253.2 L376.3,255.2 L379.1,258.8 L381.8,262.4 L384.6,266.3 L387.4,269.8 L390.1,273.1 L392.9,276.5 L395.7,279.6 L398.4,282.3 L401.2,284.3 L404.0,285.5 L406.7,286.1 L409.5,286.8 L412.3,288.3 L415.0,292.6 L417.8,296.6 L420.6,299.4 L423.3,301.6 L426.1,302.8 L428.8,303.4 L431.6,304.9 L434.4,308.3 L437.1,312.0 L439.9,313.7 L442.7,313.8 L445.4,313.8 L448.2,313.8 L451.0,315.4 L453.7,318.3 L456.5,321.6 L459.3,324.4 L462.0,326.3 L464.8,327.8 L467.6,329.7 L470.3,332.2 L473.1,334.9 L475.9,337.4 L478.6,339.3 L481.4,340.5 L484.1,341.5 L486.9,342.2 L489.7,342.5 L492.4,341.7 L495.2,339.6 L498.0,336.8 L500.7,332.9 L503.5,330.8 L506.3,329.6 L509.0,328.6 L511.8,328.0 L514.6,327.6 L517.3,327.6 L520.1,328.5 L522.9,329.6 L525.6,329.8 L528.4,327.1 L531.2,327.1 L533.9,327.3 L536.7,327.7 L539.4,328.2 L542.2,328.8 L545.0,329.5 L547.7,330.6 L550.5,332.3 L553.3,334.4 L556.0,338.0 L558.8,341.6 L561.6,343.2 L564.3,344.0 L567.1,344.8 L569.9,346.2 L572.6,347.8 L575.4,349.3 L578.2,350.1 L580.9,350.6 L583.7,351.0 L586.5,351.3 L589.2,351.6 L592.0,351.9 L594.7,352.4 L597.5,352.9 L600.3,353.3 L603.0,353.7 L605.8,353.7 L608.6,353.0 L611.3,351.7 L614.1,350.2 L616.9,349.0 L619.6,348.0 L622.4,347.1 L625.2,346.2 L627.9,345.6 L630.7,345.5 L633.5,345.6 L636.2,345.8 L639.0,346.1 L641.8,346.6 L644.5,347.4 L647.3,348.4 L650.0,349.2 L652.8,349.5 L655.6,349.3 L658.3,349.1 L661.1,349.1 L663.9,349.7 L666.6,350.7 L669.4,351.7 L672.2,352.5 L674.9,352.8 L677.7,353.1 L680.5,353.4 L683.2,353.6 L686.0,353.7 L688.8,353.7 L691.5,353.1 L694.3,352.1 L697.1,351.1 L699.8,350.3 L702.6,350.0 L705.3,350.1 L708.1,350.4 L710.9,350.8 L713.6,351.3 L716.4,351.8 L719.2,352.3 L721.9,352.8 L724.7,353.4 L727.5,354.0 L730.2,354.6 L733.0,355.3 L735.8,355.9 L738.5,356.5 L741.3,357.0 L744.1,357.6 L746.8,358.2 L749.6,358.8 L752.4,359.4 L755.1,360.0 L757.9,360.7 L760.6,361.5 L763.4,362.3 L766.2,363.0 L768.9,363.6 L771.7,364.0 L774.5,364.2 L777.2,364.4 L780.0,364.7 L782.8,365.0 L785.5,366.0 L788.3,367.4 L791.1,369.1 L793.8,370.7 L796.6,372.0 L799.4,373.5 L802.1,374.9 L804.9,375.9 L807.7,376.2 L810.4,375.2 L813.2,374.5 L815.9,374.9 L818.7,375.5 L821.5,376.3 L824.2,377.1 L827.0,377.7 L829.8,378.0 L832.5,378.0 L835.3,378.0 L838.1,378.0 L840.8,378.0 L843.6,378.0 L846.4,378.0 L849.1,378.0 L851.9,377.9 L854.7,377.4 L857.4,376.7 L860.2,375.8 L863.0,374.8 L865.7,373.3 L868.5,371.6 L871.2,370.6 L874.0,369.8 L876.8,369.2 L879.5,368.7 L882.3,368.5 L885.1,368.8 L887.8,369.8 L890.6,371.2 L893.4,372.8 L896.1,374.4 L898.9,376.5 L901.7,379.1 L904.4,382.8 L907.2,387.2 L910.0,389.7 L912.7,391.6 L915.5,393.3 L918.3,395.0 L921.0,396.6 L923.8,398.1 L926.5,399.5 L929.3,400.9 L932.1,402.2 L934.8,403.3 L937.6,404.0 L940.4,404.3 L943.1,404.5 L945.9,404.7 L948.7,404.9 L951.4,405.2 L954.2,405.5 L957.0,405.8 L959.7,406.2 L962.5,406.6 L965.3,407.1 L968.0,407.6 L970.8,408.2 L973.6,408.9 L976.3,409.9 L979.1,410.9 L981.8,411.8 L984.6,412.4 L987.4,412.9 L990.1,413.4 L992.9,413.7 L995.7,413.7 L998.4,413.7 L1001.2,413.5 L1004.0,413.3 L1006.7,413.1 L1009.5,412.6 L1012.3,411.7 L1015.0,410.3 L1017.8,408.5 L1020.6,404.9 L1023.3,401.5 L1026.1,400.8 L1028.9,400.3 L1031.6,396.6 L1034.4,388.0 L1037.1,388.1 L1039.9,389.7 L1042.7,390.5 L1045.4,390.0 L1048.2,389.0 L1051.0,388.2 L1053.7,388.1 L1056.5,388.6 L1059.3,389.4 L1062.0,390.1 L1064.8,390.5 L1067.6,390.4 L1070.3,390.2 L1073.1,389.8 L1075.9,389.4 L1078.6,388.8 L1081.4,388.0 L1084.2,386.8 L1086.9,385.4 L1089.7,382.4 L1092.4,377.2 L1095.2,372.7 L1098.0,368.3 L1100.7,365.8 L1103.5,364.9 L1106.3,363.7 L1109.0,358.9 L1111.8,352.6 L1114.6,347.0 L1117.3,341.5 L1120.1,337.0 L1122.9,336.3 L1122.9,336.3" stroke="#7030A0" stroke-width="9.0"/>
<path d="M117.2,265.7 L119.2,312.2 L119.9,322.0 L121.9,336.2 L122.7,339.0 L124.7,342.6 L125.0,343.0 L127.5,346.0 L130.2,349.7 L133.0,350.0 L135.8,350.0 L138.5,350.1 L141.3,351.7 L144.1,354.2 L146.8,357.1 L149.6,361.0 L152.3,363.9 L155.1,364.8 L157.9,365.5 L160.6,367.9 L163.4,373.7 L166.2,377.6 L168.9,378.6 L171.7,379.2 L174.5,380.3 L177.2,383.0 L180.0,386.5 L182.8,389.2 L185.5,391.2 L188.3,393.0 L191.1,394.2 L193.8,394.6 L196.6,394.9 L199.4,395.0 L202.1,395.0 L204.9,394.8 L207.6,394.7 L210.4,394.5 L213.2,394.5 L215.9,395.5 L218.7,397.1 L221.5,398.9 L224.2,400.3 L227.0,400.9 L229.8,401.3 L232.5,401.6 L235.3,401.9 L238.1,402.2 L240.8,402.6 L243.6,403.0 L246.4,403.4 L249.1,403.9 L251.9,404.4 L254.7,405.1 L257.4,405.8 L260.2,406.0 L262.9,406.0 L265.7,406.0 L268.5,406.0 L271.2,406.0 L274.0,405.6 L276.8,403.6 L279.5,402.0 L282.3,402.0 L285.1,402.0 L287.8,402.0 L290.6,402.0 L293.4,402.1 L296.1,403.6 L298.9,405.8 L301.7,407.7 L304.4,408.5 L307.2,409.0 L310.0,409.4 L312.7,409.7 L315.5,410.1 L318.2,410.6 L321.0,411.2 L323.8,411.9 L326.5,412.6 L329.3,413.2 L332.1,413.9 L334.8,414.5 L337.6,415.2 L340.4,415.8 L343.1,416.5 L345.9,417.1 L348.7,417.8 L351.4,418.5 L354.2,419.2 L357.0,419.9 L359.7,420.5 L362.5,420.9 L365.3,421.2 L368.0,421.5 L370.8,421.8 L373.5,422.1 L376.3,422.5 L379.1,422.8 L381.8,423.4 L384.6,424.3 L387.4,425.4 L390.1,426.6 L392.9,427.6 L395.7,428.7 L398.4,429.8 L401.2,430.9 L404.0,431.9 L406.7,432.8 L409.5,433.5 L412.3,434.3 L415.0,435.0 L417.8,435.6 L420.6,436.0 L423.3,436.3 L426.1,436.5 L428.8,436.7 L431.6,436.9 L434.4,437.0 L437.1,437.0 L439.9,437.0 L442.7,437.0 L445.4,437.0 L448.2,437.0 L451.0,437.0 L453.7,437.0 L456.5,437.2 L459.3,438.1 L462.0,439.3 L464.8,440.0 L467.6,440.2 L470.3,440.3 L473.1,440.4 L475.9,440.5 L478.6,440.3 L481.4,438.6 L484.1,435.9 L486.9,432.2 L489.7,427.0 L492.4,424.0 L495.2,422.0 L498.0,420.6 L500.7,419.9 L503.5,419.6 L506.3,419.4 L509.0,419.2 L511.8,419.0 L514.6,418.8 L517.3,418.5 L520.1,418.0 L522.9,417.6 L525.6,417.2 L528.4,416.9 L531.2,416.7 L533.9,416.5 L536.7,416.4 L539.4,416.3 L542.2,416.3 L545.0,416.5 L547.7,417.0 L550.5,417.8 L553.3,418.5 L556.0,418.9 L558.8,419.1 L561.6,419.4 L564.3,419.6 L567.1,419.8 L569.9,420.0 L572.6,420.3 L575.4,420.6 L578.2,420.8 L580.9,421.1 L583.7,421.2 L586.5,421.2 L589.2,421.2 L592.0,421.2 L594.7,421.2 L597.5,421.2 L600.3,420.8 L603.0,419.7 L605.8,418.4 L608.6,416.9 L611.3,414.9 L614.1,412.7 L616.9,410.8 L619.6,409.5 L622.4,408.4 L625.2,408.0 L627.9,409.2 L630.7,411.4 L633.5,412.9 L636.2,414.1 L639.0,415.1 L641.8,416.0 L644.5,416.8 L647.3,417.6 L650.0,418.2 L652.8,418.9 L655.6,419.7 L658.3,420.5 L661.1,421.3 L663.9,422.2 L666.6,423.1 L669.4,423.9 L672.2,424.7 L674.9,425.5 L677.7,426.2 L680.5,426.7 L683.2,427.3 L686.0,427.9 L688.8,428.4 L691.5,429.1 L694.3,429.8 L697.1,430.7 L699.8,431.8 L702.6,433.0 L705.3,434.2 L708.1,435.5 L710.9,436.6 L713.6,437.9 L716.4,439.3 L719.2,440.5 L721.9,441.5 L724.7,442.0 L727.5,442.1 L730.2,442.2 L733.0,442.3 L735.8,442.4 L738.5,442.4 L741.3,442.5 L744.1,442.5 L746.8,442.3 L749.6,441.7 L752.4,441.3 L755.1,442.1 L757.9,444.0 L760.6,445.8 L763.4,446.2 L766.2,446.2 L768.9,446.2 L771.7,446.2 L774.5,445.8 L777.2,444.2 L780.0,442.3 L782.8,441.2 L785.5,440.6 L788.3,440.1 L791.1,439.7 L793.8,439.5 L796.6,439.7 L799.4,440.5 L802.1,441.5 L804.9,442.0 L807.7,441.8 L810.4,441.2 L813.2,440.6 L815.9,440.1 L818.7,440.0 L821.5,440.3 L824.2,440.7 L827.0,441.2 L829.8,441.9 L832.5,442.5 L835.3,443.4 L838.1,444.5 L840.8,445.7 L843.6,446.7 L846.4,447.3 L849.1,447.8 L851.9,448.3 L854.7,448.6 L857.4,448.7 L860.2,447.6 L863.0,445.0 L865.7,442.6 L868.5,442.0 L871.2,441.9 L874.0,441.8 L876.8,441.8 L879.5,441.8 L882.3,442.6 L885.1,445.0 L887.8,447.0 L890.6,447.7 L893.4,448.2 L896.1,448.5 L898.9,448.7 L901.7,448.7 L904.4,448.6 L907.2,448.4 L910.0,448.2 L912.7,448.0 L915.5,448.0 L918.3,448.1 L921.0,448.4 L923.8,448.8 L926.5,449.3 L929.3,449.9 L932.1,450.7 L934.8,452.1 L937.6,453.6 L940.4,454.6 L943.1,455.3 L945.9,455.9 L948.7,456.2 L951.4,456.0 L954.2,454.6 L957.0,452.7 L959.7,451.3 L962.5,450.7 L965.3,450.2 L968.0,449.8 L970.8,449.5 L973.6,449.5 L976.3,450.1 L979.1,450.8 L981.8,451.6 L984.6,452.0 L987.4,451.9 L990.1,451.5 L992.9,451.0 L995.7,450.4 L998.4,449.8 L1001.2,449.0 L1004.0,447.9 L1006.7,446.6 L1009.5,444.8 L1012.3,443.2 L1015.0,441.5 L1017.8,438.9 L1020.6,437.4 L1023.3,437.0 L1026.1,436.9 L1028.9,436.5 L1031.6,431.1 L1034.4,423.8 L1037.1,424.0 L1039.9,424.3 L1042.7,424.5 L1045.4,423.6 L1048.2,422.4 L1051.0,422.1 L1053.7,423.5 L1056.5,425.5 L1059.3,427.2 L1062.0,428.1 L1064.8,428.8 L1067.6,429.3 L1070.3,429.5 L1073.1,429.5 L1075.9,429.5 L1078.6,429.5 L1081.4,429.5 L1084.2,429.5 L1086.9,428.7 L1089.7,425.8 L1092.4,422.6 L1095.2,419.0 L1098.0,416.9 L1100.7,416.6 L1103.5,416.3 L1106.3,414.4 L1109.0,411.0 L1111.8,408.4 L1114.6,406.1 L1117.3,404.5 L1120.1,403.3 L1122.9,402.5 L1122.9,402.5" stroke="#000000" stroke-width="10.2"/>
<path d="M117.2,339.4 L119.2,403.9 L119.2,404.0 L121.5,407.0 L121.9,407.1 L124.7,407.4 L125.0,407.5 L127.5,408.2 L130.2,409.2 L133.0,410.1 L135.8,410.9 L138.5,411.6 L141.3,412.3 L144.1,413.0 L146.8,413.7 L149.6,414.0 L152.3,413.6 L155.1,412.5 L157.9,411.1 L160.6,409.7 L163.4,408.0 L166.2,406.2 L168.9,404.5 L171.7,403.2 L174.5,402.0 L177.2,401.2 L180.0,401.0 L182.8,401.4 L185.5,402.0 L188.3,402.7 L191.1,403.6 L193.8,404.4 L196.6,405.3 L199.4,406.4 L202.1,407.6 L204.9,408.9 L207.6,410.6 L210.4,412.6 L213.2,414.7 L215.9,416.6 L218.7,418.6 L221.5,420.5 L224.2,422.1 L227.0,423.2 L229.8,424.0 L232.5,425.0 L235.3,426.6 L238.1,428.7 L240.8,431.0 L243.6,433.1 L246.4,434.8 L249.1,436.2 L251.9,437.5 L254.7,438.8 L257.4,440.3 L260.2,442.0 L262.9,443.4 L265.7,444.1 L268.5,444.6 L271.2,444.9 L274.0,445.1 L276.8,445.4 L279.5,445.7 L282.3,446.0 L285.1,446.4 L287.8,446.7 L290.6,447.1 L293.4,447.6 L296.1,448.3 L298.9,449.0 L301.7,449.6 L304.4,450.0 L307.2,450.1 L310.0,450.3 L312.7,450.4 L315.5,450.5 L318.2,450.5 L321.0,450.3 L323.8,449.9 L326.5,449.5 L329.3,449.2 L332.1,449.0 L334.8,449.1 L337.6,449.3 L340.4,449.5 L343.1,449.8 L345.9,450.0 L348.7,449.9 L351.4,449.1 L354.2,447.9 L357.0,446.7 L359.7,446.0 L362.5,445.8 L365.3,445.7 L368.0,445.6 L370.8,445.5 L373.5,445.5 L376.3,446.0 L379.1,446.7 L381.8,447.4 L384.6,447.9 L387.4,448.5 L390.1,449.1 L392.9,449.6 L395.7,450.1 L398.4,450.6 L401.2,451.1 L404.0,451.5 L406.7,452.0 L409.5,452.4 L412.3,452.9 L415.0,453.4 L417.8,453.9 L420.6,454.4 L423.3,454.8 L426.1,455.1 L428.8,455.4 L431.6,455.7 L434.4,456.0 L437.1,456.2 L439.9,456.2 L442.7,456.0 L445.4,455.3 L448.2,454.4 L451.0,453.4 L453.7,452.7 L456.5,452.3 L459.3,452.1 L462.0,451.9 L464.8,451.7 L467.6,451.5 L470.3,451.2 L473.1,451.0 L475.9,450.7 L478.6,450.3 L481.4,449.8 L484.1,448.3 L486.9,444.4 L489.7,440.3 L492.4,437.6 L495.2,435.2 L498.0,433.5 L500.7,432.4 L503.5,431.5 L506.3,430.8 L509.0,430.2 L511.8,429.7 L514.6,429.3 L517.3,428.9 L520.1,428.6 L522.9,428.3 L525.6,427.9 L528.4,427.5 L531.2,427.1 L533.9,426.7 L536.7,426.4 L539.4,426.3 L542.2,426.4 L545.0,426.7 L547.7,427.2 L550.5,427.6 L553.3,427.9 L556.0,428.0 L558.8,427.9 L561.6,427.8 L564.3,427.5 L567.1,427.3 L569.9,427.0 L572.6,426.6 L575.4,426.0 L578.2,425.2 L580.9,424.5 L583.7,423.9 L586.5,423.6 L589.2,423.4 L592.0,423.2 L594.7,423.0 L597.5,422.8 L600.3,422.5 L603.0,421.7 L605.8,420.6 L608.6,419.4 L611.3,418.1 L614.1,416.6 L616.9,415.0 L619.6,414.0 L622.4,413.8 L625.2,414.5 L627.9,415.5 L630.7,416.5 L633.5,417.5 L636.2,418.6 L639.0,419.8 L641.8,420.9 L644.5,422.1 L647.3,423.3 L650.0,424.5 L652.8,425.5 L655.6,426.4 L658.3,427.1 L661.1,427.8 L663.9,428.7 L666.6,429.7 L669.4,430.7 L672.2,431.5 L674.9,432.0 L677.7,432.3 L680.5,432.5 L683.2,432.6 L686.0,432.8 L688.8,432.9 L691.5,433.1 L694.3,433.3 L697.1,433.5 L699.8,433.8 L702.6,434.0 L705.3,434.2 L708.1,434.4 L710.9,434.6 L713.6,434.7 L716.4,434.9 L719.2,435.1 L721.9,435.3 L724.7,435.4 L727.5,435.5 L730.2,435.5 L733.0,435.2 L735.8,434.6 L738.5,434.0 L741.3,433.5 L744.1,433.0 L746.8,432.5 L749.6,432.2 L752.4,432.0 L755.1,432.3 L757.9,433.2 L760.6,434.3 L763.4,435.3 L766.2,436.6 L768.9,437.9 L770.0,438.5" stroke="#00B0F0" stroke-width="10.0"/>
</g>
<text x="849.50" y="510.60" font-size="18.8" textLength="277.01" lengthAdjust="spacingAndGlyphs">©2024 DAT Freight &amp; Analytics</text>
<line x1="161.30" y1="640.5" x2="199.70" y2="640.5" stroke="#FFE699" stroke-width="9" stroke-linecap="round"/>
<text x="203.72" y="645.40" font-size="21" textLength="48.18" lengthAdjust="spacingAndGlyphs">2017</text>
<line x1="276.23" y1="640.5" x2="314.63" y2="640.5" stroke="#BDD7EE" stroke-width="9" stroke-linecap="round"/>
<text x="318.65" y="645.40" font-size="21" textLength="48.07" lengthAdjust="spacingAndGlyphs">2018</text>
<line x1="391.16" y1="640.5" x2="429.56" y2="640.5" stroke="#C5E0B4" stroke-width="9" stroke-linecap="round"/>
<text x="433.58" y="645.40" font-size="21" textLength="48.18" lengthAdjust="spacingAndGlyphs">2019</text>
<line x1="506.09" y1="640.5" x2="544.49" y2="640.5" stroke="#ED7D31" stroke-width="9" stroke-linecap="round"/>
<text x="548.51" y="645.40" font-size="21" textLength="47.96" lengthAdjust="spacingAndGlyphs">2020</text>
<line x1="621.02" y1="640.5" x2="659.42" y2="640.5" stroke="#FF0000" stroke-width="9" stroke-linecap="round"/>
<text x="663.44" y="645.40" font-size="21" textLength="48.18" lengthAdjust="spacingAndGlyphs">2021</text>
<line x1="735.95" y1="640.5" x2="774.35" y2="640.5" stroke="#7030A0" stroke-width="9" stroke-linecap="round"/>
<text x="778.37" y="645.40" font-size="21" textLength="48.18" lengthAdjust="spacingAndGlyphs">2022</text>
<line x1="850.88" y1="640.5" x2="889.28" y2="640.5" stroke="#000000" stroke-width="9" stroke-linecap="round"/>
<text x="893.30" y="645.40" font-size="21" textLength="48.07" lengthAdjust="spacingAndGlyphs">2023</text>
<line x1="965.81" y1="640.5" x2="1004.21" y2="640.5" stroke="#00B0F0" stroke-width="9" stroke-linecap="round"/>
<text x="1008.24" y="645.40" font-size="21" textLength="47.73" lengthAdjust="spacingAndGlyphs">2024</text>
</svg></body></html>
